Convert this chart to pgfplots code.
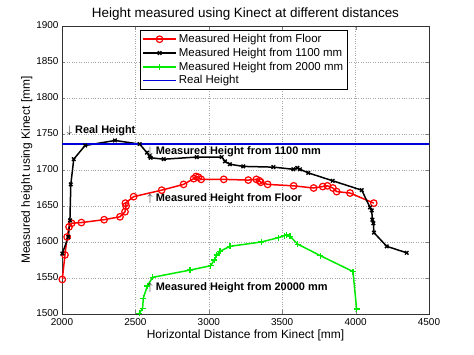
\documentclass[border=0pt]{standalone}
\usepackage{pgfplots}
\pgfplotsset{compat=1.18}
\usepackage{fontspec}
\setmainfont{Liberation Sans}
\definecolor{mred}{RGB}{255,0,0}
\definecolor{mgreen}{RGB}{0,235,0}
\definecolor{mblue}{RGB}{0,0,220}
\begin{document}
\begin{tikzpicture}
\useasboundingbox (-62bp,-41bp) rectangle (412bp,314bp);
\begin{axis}[
  scale only axis, width=367bp, height=288bp,
  xmin=2000, xmax=4500, ymin=1500, ymax=1900,
  xtick={2000,2500,...,4500}, ytick={1500,1550,...,1900},
  /pgf/number format/assume math mode=true,
  /pgf/number format/set thousands separator={},
  tick align=inside, tick pos=both,
  major tick length=3.5bp,
  grid=major,
  major grid style={gray!70, dotted, line width=0.5pt},
  axis line style={black!80, line width=0.5pt},
  tick label style={font=\fontsize{10}{11}\selectfont},
  xticklabel style={yshift=-1bp},
  yticklabel style={yshift=1bp},
  label style={font=\fontsize{12}{13}\selectfont},
  title style={font=\fontsize{13.5}{15}\selectfont, yshift=-4bp},
  title={Height measured using Kinect at different distances},
  xlabel={Horizontal Distance from Kinect [mm]},
  ylabel={Measured height using Kinect [mm]},
  xlabel style={yshift=3bp},
  ylabel style={yshift=-3bp},
  legend style={at={(0.2125,0.986)}, anchor=north west, font=\fontsize{11.5}{12}\selectfont,
    draw=black, line width=0.6pt, row sep=0pt, inner sep=2pt},
  legend cell align=left,
  legend image code/.code={\draw[#1] (0bp,0bp) -- (33bp,0bp); \draw[#1, mark repeat=2, mark phase=2] plot coordinates {(0bp,0bp) (16.5bp,0bp) (33bp,0bp)};},
  clip=true,
]
\addplot[mred, line width=1.5pt, mark=o, mark size=3.3pt, mark options={line width=1.2pt}] coordinates {
(2002,1548) (2020,1582) (2035,1607) (2048,1621) (2066,1626) (2132,1627)
(2287,1631) (2395,1635) (2429,1642) (2437,1650) (2432,1654) (2488,1663)
(2679,1672) (2828,1680) (2897,1688) (2913,1691) (2929,1690) (2948,1687)
(3102,1687) (3269,1686) (3324,1687) (3345,1685) (3354,1683) (3401,1680)
(3578,1678) (3714,1675) (3776,1677) (3808,1678) (3845,1675) (3871,1670)
(3962,1668) (4124,1654)
};
\addlegendentry{Measured Height from Floor}
\addplot[black, line width=1.5pt, mark=x, mark size=2.5pt, mark options={line width=1.4pt}] coordinates {
(2002,1584) (2043,1607) (2054,1630) (2060,1680) (2080,1715) (2157,1734)
(2361,1741) (2529,1736) (2579,1724) (2597,1719) (2604,1717) (2693,1715)
(2918,1718) (3088,1718) (3110,1712) (3144,1708) (3235,1705) (3440,1704)
(3576,1701) (3603,1703) (3621,1701) (3678,1696) (3844,1685) (4042,1672)
(4098,1648) (4110,1644) (4114,1631) (4121,1626) (4125,1613) (4212,1594)
(4348,1585)
};
\addlegendentry{Measured Height from 1100 mm}
\addplot[mgreen, line width=1.5pt, mark=+, mark size=3pt, mark options={line width=1.2pt}] coordinates {
(2527,1501) (2549,1508) (2554,1522) (2581,1539) (2618,1551) (2872,1561)
(3012,1567) (3038,1575) (3054,1582) (3076,1587) (3144,1594) (3357,1600)
(3474,1606) (3515,1609) (3531,1610) (3553,1608) (3606,1597) (3760,1581)
(3982,1559) (4007,1507)
};
\addlegendentry{Measured Height from 2000 mm}
\addplot[mblue, line width=1.6pt] coordinates {(2000,1736) (4500,1736)};
\addlegendentry{Real Height}
\node[anchor=west, font=\bfseries\fontsize{11}{12}\selectfont, inner sep=0pt] at (axis cs:2030,1754) {$\downarrow$ Real Height};
\node[anchor=west, font=\bfseries\fontsize{11}{12}\selectfont, inner sep=0pt] at (axis cs:2580,1725) {$\downarrow$ Measured Height from 1100 mm};
\node[anchor=west, font=\bfseries\fontsize{11}{12}\selectfont, inner sep=0pt] at (axis cs:2580,1660) {$\uparrow$ Measured Height from Floor};
\node[anchor=west, font=\bfseries\fontsize{11}{12}\selectfont, inner sep=0pt] at (axis cs:2580,1537) {$\uparrow$ Measured Height from 20000 mm};
\end{axis}
\end{tikzpicture}
\end{document}
